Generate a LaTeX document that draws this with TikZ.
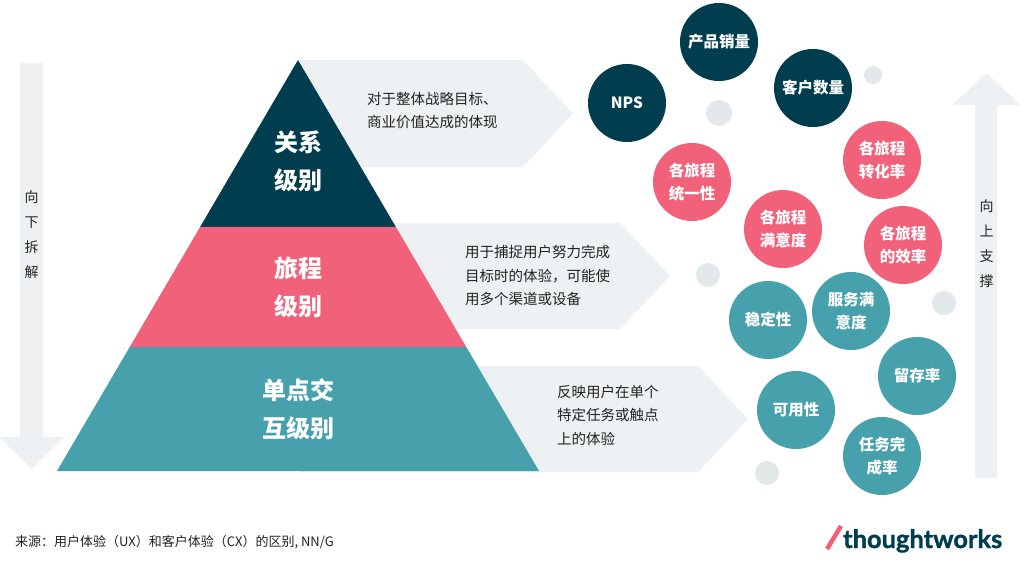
\documentclass[tikz,border=0pt]{standalone}
\usepackage{fontspec}
\usepackage{graphicx}
\usetikzlibrary{calc}
\setmainfont{Noto Sans CJK SC}
\newfontfamily\logofont[FakeBold=1.2]{Lato}
\definecolor{wave}{HTML}{003D4F}
\definecolor{flamingo}{HTML}{F2617A}
\definecolor{jade}{HTML}{47A1AD}
\definecolor{mist}{HTML}{EDF1F3}
\definecolor{dot}{HTML}{E3E8EA}
\definecolor{txt}{HTML}{222222}
\tikzset{
  metric/.style={circle, minimum size=78pt, inner sep=0pt, text=white, align=center,
    font=\fontsize{15.5}{23}\selectfont\bfseries},
  lvl/.style={text=white, align=center, font=\fontsize{24}{38}\selectfont\bfseries},
  desc/.style={text=txt, align=left, anchor=north west, inner sep=0pt,
    font=\fontsize{14.5}{23.5}\selectfont},
  vtxt/.style={text=txt, align=center, font=\fontsize{14}{25}\selectfont},
  greydot/.style={circle, fill=dot, inner sep=0pt},
  band/.style={fill=mist}
}
\begin{document}
\begin{tikzpicture}[x=1pt,y=-1pt]
\useasboundingbox (0,0) rectangle (1024,576);
\fill[white] (0,0) rectangle (1024,576);

% side arrows
\fill[band] (20,63) -- (43,63) -- (43,437) -- (64,437) -- (31.5,469) -- (-1,437) -- (20,437) -- cycle;
\fill[band] (975,478) -- (975,105) -- (952,105) -- (986.5,73) -- (1021,105) -- (997,105) -- (997,478) -- cycle;
\node[vtxt] (down) at (31.5,235) {向\\下\\拆\\解};
\node[vtxt] (up) at (986.5,244) {向\\上\\支\\撑};

% chevron bands
\fill[band] (300,60) -- (523,60) -- (573,113.5) -- (523,167) -- (300,167) -- cycle;
\fill[band] (300,223) -- (620,223) -- (670,276) -- (620,329) -- (300,329) -- cycle;
\fill[band] (300,366) -- (698,366) -- (748,419) -- (698,472) -- (300,472) -- cycle;

% pyramid
\coordinate (apex) at (298,60);
\coordinate (bl) at (57,471);
\coordinate (br) at (539,471);
\fill[wave] (apex) -- ($(apex)!0.4063!(br)$) -- ($(apex)!0.4063!(bl)$) -- cycle;
\fill[flamingo] ($(apex)!0.4063!(bl)$) -- ($(apex)!0.4063!(br)$) -- ($(apex)!0.6983!(br)$) -- ($(apex)!0.6983!(bl)$) -- cycle;
\fill[jade] ($(apex)!0.6983!(bl)$) -- ($(apex)!0.6983!(br)$) -- (br) -- (bl) -- cycle;

\node[lvl] (l1) at (298,161) {关系\\级别};
\node[lvl] (l2) at (298,287) {旅程\\级别};
\node[lvl] (l3) at (298,409) {单点交\\互级别};

\node[desc] (d1) at (367,92) {对于整体战略目标、\\商业价值达成的体现};
\node[desc] (d2) at (465,245) {用于捕捉用户努力完成\\目标时的体验，可能使\\用多个渠道或设备};
\node[desc] (d3) at (557,385) {反映用户在单个\\特定任务或触点\\上的体验};

% grey dots
\node[greydot, minimum size=18pt] (g1) at (873,75) {};
\node[greydot, minimum size=26pt] (g2) at (719,113) {};
\node[greydot, minimum size=24pt] (g3) at (708,275) {};
\node[greydot, minimum size=24pt] (g4) at (944,303) {};
\node[greydot, minimum size=24pt] (g5) at (767,473) {};

% metric circles
\node[metric, fill=wave] (nps) at (627,103) {NPS};
\node[metric, fill=wave] (sales) at (719,42) {产品销量};
\node[metric, fill=wave] (cust) at (813,88) {客户数量};
\node[metric, fill=flamingo] (cons) at (692,182) {各旅程\\统一性};
\node[metric, fill=flamingo] (conv) at (882,160) {各旅程\\转化率};
\node[metric, fill=flamingo] (sat) at (783,229) {各旅程\\满意度};
\node[metric, fill=flamingo] (eff) at (903,245) {各旅程\\的效率};
\node[metric, fill=jade] (stab) at (768,320) {稳定性};
\node[metric, fill=jade] (serv) at (851,311) {服务满\\意度};
\node[metric, fill=jade] (ret) at (917,376) {留存率};
\node[metric, fill=jade] (use) at (796,410) {可用性};
\node[metric, fill=jade] (task) at (882,456) {任务完\\成率};

% footer
\node[text=txt, anchor=west, inner sep=0pt, font=\fontsize{13}{15}\selectfont] (src) at (15,542) {来源：用户体验（UX）和客户体验（CX）的区别, NN/G};
\draw[flamingo, line width=4.5pt] (827,549) -- (841,526);
\node[anchor=base west, inner sep=0pt, text=wave] (logo) at (843,548) {\resizebox{159pt}{!}{\logofont\fontsize{28}{30}\selectfont\bfseries thoughtworks}};
\end{tikzpicture}
\end{document}
